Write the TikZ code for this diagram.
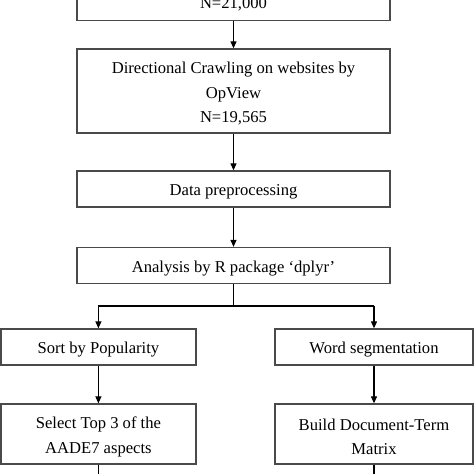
\documentclass[tikz,border=0pt]{standalone}
\usepackage{fontspec}
\setmainfont{Liberation Serif}
\usetikzlibrary{arrows.meta}
\definecolor{edge}{HTML}{4A4A4A}
\tikzset{
  txt/.style={font=\fontsize{16.6}{24.5}\selectfont, align=center, inner sep=0pt, yshift=-3pt},
  box/.style={draw=edge, line width=1.3pt, inner sep=0pt},
  arr/.style={draw=black, line width=1.2pt, -{Triangle[length=7pt,width=6pt]}},
  ln/.style={draw=black, line width=1.2pt}
}
\begin{document}
\begin{tikzpicture}[x=1pt,y=-1pt]
\useasboundingbox (0,0) rectangle (474,474);
\node[box, minimum width=313pt, minimum height=60pt, anchor=south] (b1) at (233.5,21) {};
\node[box, minimum width=313pt, minimum height=84pt] (b2) at (233.5,91) {};
\node[box, minimum width=313pt, minimum height=36pt] (b3) at (233.5,189) {};
\node[box, minimum width=313pt, minimum height=36pt] (b4) at (233.5,265.5) {};
\node[box, minimum width=195pt, minimum height=36pt] (l1) at (98.4,347) {};
\node[box, minimum width=198pt, minimum height=36pt] (r1) at (374,347) {};
\node[box, minimum width=195pt, minimum height=60pt] (l2) at (98.4,434) {};
\node[box, minimum width=198pt, minimum height=60pt] (r2) at (374,434) {};
\node[txt, yshift=3pt] (t1) at (233.5,4.5) {N=21,000};
\node[txt] (t2) at (b2.center) {Directional Crawling on websites by\\OpView\\N=19,565};
\node[txt] (t3) at (b3.center) {Data preprocessing};
\node[txt] (t4) at (b4.center) {Analysis by R package ‘dplyr’};
\node[txt] (tl1) at (l1.center) {Sort by Popularity};
\node[txt] (tr1) at (r1.center) {Word segmentation};
\node[txt] (tl2) at (l2.center) {Select Top 3 of the\\AADE7 aspects};
\node[txt] (tr2) at (r2.center) {Build Document-Term\\Matrix};
\coordinate (j) at (233.5,306);
\coordinate (jl) at (98.4,306);
\coordinate (jr) at (374,306);
\coordinate (el) at (98.4,480);
\coordinate (er) at (374,480);
\draw[arr] (b1.south) -- (b2.north);
\draw[arr] (b2.south) -- (b3.north);
\draw[arr] (b3.south) -- (b4.north);
\draw[ln] (b4.south) -- (j);
\draw[ln] (jl) -- (jr);
\draw[arr] (jl) -- (l1.north);
\draw[arr] (jr) -- (r1.north);
\draw[arr] (l1.south) -- (l2.north);
\draw[arr] (r1.south) -- (r2.north);
\draw[ln] (l2.south) -- (el);
\draw[ln] (r2.south) -- (er);
\end{tikzpicture}
\end{document}
